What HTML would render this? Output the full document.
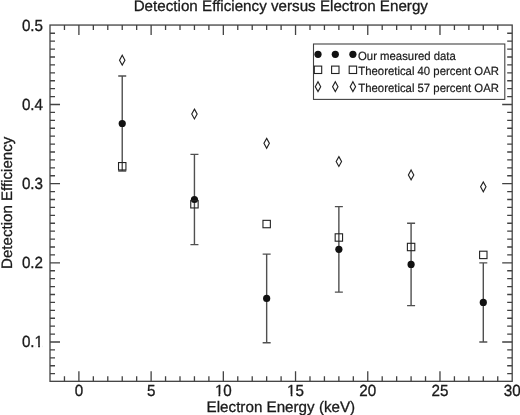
<!DOCTYPE html>
<html><head><meta charset="utf-8"><style>
html,body{margin:0;padding:0;background:#fff;}
svg{display:block;text-rendering:geometricPrecision;filter:blur(0.3px);font-family:"Liberation Sans",Arial,sans-serif;}
</style></head><body>
<svg width="520" height="415" viewBox="0 0 520 415">
<rect x="50.01" y="25.05" width="462.18" height="356.27" fill="none" stroke="#424242" stroke-width="1.3"/>
<path d="M64.46 381.32V376.32M64.46 25.05V30.05M78.90 381.32V371.32M78.90 25.05V35.05M93.34 381.32V376.32M93.34 25.05V30.05M107.79 381.32V376.32M107.79 25.05V30.05M122.23 381.32V376.32M122.23 25.05V30.05M136.67 381.32V376.32M136.67 25.05V30.05M151.12 381.32V371.32M151.12 25.05V35.05M165.56 381.32V376.32M165.56 25.05V30.05M180.00 381.32V376.32M180.00 25.05V30.05M194.44 381.32V376.32M194.44 25.05V30.05M208.89 381.32V376.32M208.89 25.05V30.05M223.33 381.32V371.32M223.33 25.05V35.05M237.77 381.32V376.32M237.77 25.05V30.05M252.22 381.32V376.32M252.22 25.05V30.05M266.66 381.32V376.32M266.66 25.05V30.05M281.10 381.32V376.32M281.10 25.05V30.05M295.54 381.32V371.32M295.54 25.05V35.05M309.99 381.32V376.32M309.99 25.05V30.05M324.43 381.32V376.32M324.43 25.05V30.05M338.87 381.32V376.32M338.87 25.05V30.05M353.32 381.32V376.32M353.32 25.05V30.05M367.76 381.32V371.32M367.76 25.05V35.05M382.20 381.32V376.32M382.20 25.05V30.05M396.65 381.32V376.32M396.65 25.05V30.05M411.09 381.32V376.32M411.09 25.05V30.05M425.53 381.32V376.32M425.53 25.05V30.05M439.98 381.32V371.32M439.98 25.05V35.05M454.42 381.32V376.32M454.42 25.05V30.05M468.86 381.32V376.32M468.86 25.05V30.05M483.30 381.32V376.32M483.30 25.05V30.05M497.75 381.32V376.32M497.75 25.05V30.05M50.01 373.65H55.01M512.19 373.65H507.19M50.01 365.74H55.01M512.19 365.74H507.19M50.01 357.82H55.01M512.19 357.82H507.19M50.01 349.91H55.01M512.19 349.91H507.19M50.01 341.99H60.01M512.19 341.99H502.19M50.01 334.07H55.01M512.19 334.07H507.19M50.01 326.16H55.01M512.19 326.16H507.19M50.01 318.24H55.01M512.19 318.24H507.19M50.01 310.33H55.01M512.19 310.33H507.19M50.01 302.41H55.01M512.19 302.41H507.19M50.01 294.49H55.01M512.19 294.49H507.19M50.01 286.58H55.01M512.19 286.58H507.19M50.01 278.66H55.01M512.19 278.66H507.19M50.01 270.75H55.01M512.19 270.75H507.19M50.01 262.83H60.01M512.19 262.83H502.19M50.01 254.91H55.01M512.19 254.91H507.19M50.01 247.00H55.01M512.19 247.00H507.19M50.01 239.08H55.01M512.19 239.08H507.19M50.01 231.17H55.01M512.19 231.17H507.19M50.01 223.25H55.01M512.19 223.25H507.19M50.01 215.33H55.01M512.19 215.33H507.19M50.01 207.42H55.01M512.19 207.42H507.19M50.01 199.50H55.01M512.19 199.50H507.19M50.01 191.59H55.01M512.19 191.59H507.19M50.01 183.67H60.01M512.19 183.67H502.19M50.01 175.75H55.01M512.19 175.75H507.19M50.01 167.84H55.01M512.19 167.84H507.19M50.01 159.92H55.01M512.19 159.92H507.19M50.01 152.01H55.01M512.19 152.01H507.19M50.01 144.09H55.01M512.19 144.09H507.19M50.01 136.17H55.01M512.19 136.17H507.19M50.01 128.26H55.01M512.19 128.26H507.19M50.01 120.34H55.01M512.19 120.34H507.19M50.01 112.43H55.01M512.19 112.43H507.19M50.01 104.51H60.01M512.19 104.51H502.19M50.01 96.59H55.01M512.19 96.59H507.19M50.01 88.68H55.01M512.19 88.68H507.19M50.01 80.76H55.01M512.19 80.76H507.19M50.01 72.85H55.01M512.19 72.85H507.19M50.01 64.93H55.01M512.19 64.93H507.19M50.01 57.01H55.01M512.19 57.01H507.19M50.01 49.10H55.01M512.19 49.10H507.19M50.01 41.18H55.01M512.19 41.18H507.19M50.01 33.27H55.01M512.19 33.27H507.19" stroke="#424242" stroke-width="1.3" fill="none"/>
<g font-size="15.2" fill="#1a1a1a" stroke="#1a1a1a" stroke-width="0.3"><text transform="translate(78.90,396.00) scale(1,1.06)" text-anchor="middle">0</text><text transform="translate(151.12,396.00) scale(1,1.06)" text-anchor="middle">5</text><text transform="translate(223.33,396.00) scale(1,1.06)" text-anchor="middle">10</text><text transform="translate(295.54,396.00) scale(1,1.06)" text-anchor="middle">15</text><text transform="translate(367.76,396.00) scale(1,1.06)" text-anchor="middle">20</text><text transform="translate(439.98,396.00) scale(1,1.06)" text-anchor="middle">25</text><text transform="translate(512.19,396.00) scale(1,1.06)" text-anchor="middle">30</text><text transform="translate(43.00,347.29) scale(1,1.06)" text-anchor="end">0.1</text><text transform="translate(43.00,268.13) scale(1,1.06)" text-anchor="end">0.2</text><text transform="translate(43.00,188.97) scale(1,1.06)" text-anchor="end">0.3</text><text transform="translate(43.00,109.81) scale(1,1.06)" text-anchor="end">0.4</text><text transform="translate(43.00,30.65) scale(1,1.06)" text-anchor="end">0.5</text></g>
<g fill="#fff"><rect x="215.43" y="394.00" width="3.06" height="3.00"/><rect x="220.24" y="394.00" width="2.95" height="3.00"/><rect x="287.65" y="394.00" width="3.06" height="3.00"/><rect x="292.46" y="394.00" width="2.95" height="3.00"/><rect x="35.10" y="345.00" width="3.06" height="3.00"/><rect x="39.91" y="345.00" width="2.95" height="3.00"/></g>
<path d="M122.23 76.01V171.00M118.23 76.01H126.23M118.23 171.00H126.23M194.44 154.38V244.62M190.44 154.38H198.44M190.44 244.62H198.44M266.66 254.12V342.78M262.66 254.12H270.66M262.66 342.78H270.66M338.87 206.63V292.12M334.87 206.63H342.87M334.87 292.12H342.87M411.09 223.25V305.58M407.09 223.25H415.09M407.09 305.58H415.09M483.30 262.83V341.99M479.30 262.83H487.30M479.30 341.99H487.30" stroke="#505050" stroke-width="1.4" fill="none"/>
<circle cx="122.23" cy="123.51" r="3.6" fill="#111"/>
<rect x="118.53" y="162.55" width="7.4" height="7.4" fill="none" stroke="#222" stroke-width="1.1"/>
<path d="M122.23 55.28L124.93 60.18L122.23 65.08L119.53 60.18Z" fill="none" stroke="#222" stroke-width="1.15"/>
<circle cx="194.44" cy="199.50" r="3.6" fill="#111"/>
<rect x="190.74" y="200.55" width="7.4" height="7.4" fill="none" stroke="#222" stroke-width="1.1"/>
<path d="M194.44 109.11L197.14 114.01L194.44 118.91L191.74 114.01Z" fill="none" stroke="#222" stroke-width="1.15"/>
<circle cx="266.66" cy="298.45" r="3.6" fill="#111"/>
<rect x="262.96" y="220.34" width="7.4" height="7.4" fill="none" stroke="#222" stroke-width="1.1"/>
<path d="M266.66 138.40L269.36 143.30L266.66 148.20L263.96 143.30Z" fill="none" stroke="#222" stroke-width="1.15"/>
<circle cx="338.87" cy="249.37" r="3.6" fill="#111"/>
<rect x="335.17" y="233.80" width="7.4" height="7.4" fill="none" stroke="#222" stroke-width="1.1"/>
<path d="M338.87 156.61L341.57 161.51L338.87 166.41L336.17 161.51Z" fill="none" stroke="#222" stroke-width="1.15"/>
<circle cx="411.09" cy="264.41" r="3.6" fill="#111"/>
<rect x="407.39" y="243.30" width="7.4" height="7.4" fill="none" stroke="#222" stroke-width="1.1"/>
<path d="M411.09 170.06L413.79 174.96L411.09 179.86L408.39 174.96Z" fill="none" stroke="#222" stroke-width="1.15"/>
<circle cx="483.30" cy="302.41" r="3.6" fill="#111"/>
<rect x="479.60" y="251.21" width="7.4" height="7.4" fill="none" stroke="#222" stroke-width="1.1"/>
<path d="M483.30 181.94L486.00 186.84L483.30 191.74L480.60 186.84Z" fill="none" stroke="#222" stroke-width="1.15"/>
<rect x="313.5" y="44" width="191.3" height="55.4" fill="none" stroke="#424242" stroke-width="1.1"/>
<circle cx="318.00" cy="54.30" r="3.6" fill="#111"/>
<rect x="314.30" y="66.10" width="7.4" height="7.4" fill="none" stroke="#222" stroke-width="1.1"/>
<path d="M318.00 81.80L320.70 86.70L318.00 91.60L315.30 86.70Z" fill="none" stroke="#222" stroke-width="1.15"/>
<circle cx="335.30" cy="54.30" r="3.6" fill="#111"/>
<rect x="331.60" y="66.10" width="7.4" height="7.4" fill="none" stroke="#222" stroke-width="1.1"/>
<path d="M335.30 81.80L338.00 86.70L335.30 91.60L332.60 86.70Z" fill="none" stroke="#222" stroke-width="1.15"/>
<circle cx="352.90" cy="54.30" r="3.6" fill="#111"/>
<rect x="349.20" y="66.10" width="7.4" height="7.4" fill="none" stroke="#222" stroke-width="1.1"/>
<path d="M352.90 81.80L355.60 86.70L352.90 91.60L350.20 86.70Z" fill="none" stroke="#222" stroke-width="1.15"/>
<g font-size="11.9" fill="#1a1a1a" stroke="#1a1a1a" stroke-width="0.2" lengthAdjust="spacingAndGlyphs"><text x="358" y="59.6" textLength="97.8" lengthAdjust="spacingAndGlyphs">Our measured data</text><text x="358.3" y="75" textLength="140.6" lengthAdjust="spacingAndGlyphs">Theoretical 40 percent OAR</text><text x="358.3" y="91.5" textLength="140.6" lengthAdjust="spacingAndGlyphs">Theoretical 57 percent OAR</text></g>
<text x="280.8" y="11.3" font-size="15.2" text-anchor="middle" fill="#1a1a1a" stroke="#1a1a1a" stroke-width="0.3">Detection Efficiency versus Electron Energy</text>
<text x="280.9" y="412.0" font-size="15.2" text-anchor="middle" fill="#1a1a1a" stroke="#1a1a1a" stroke-width="0.3">Electron Energy (keV)</text>
<text transform="translate(12,202.8) rotate(-90)" font-size="15.1" text-anchor="middle" fill="#1a1a1a" stroke="#1a1a1a" stroke-width="0.3">Detection Efficiency</text>
</svg>
</body></html>
